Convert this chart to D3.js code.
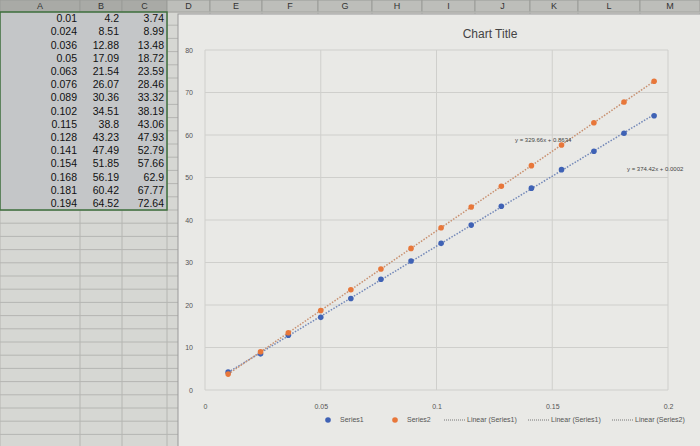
<!DOCTYPE html>
<html><head><meta charset="utf-8">
<script src="https://cdn.jsdelivr.net/npm/d3@7"></script>
<style>body{margin:0;background:#cfd0cc;font-family:"Liberation Sans",Arial,sans-serif}</style>
</head><body>
<script>
var xVals   = [0.01,0.024,0.036,0.05,0.063,0.076,0.089,0.102,0.115,0.128,0.141,0.154,0.168,0.181,0.194];
var series1 = [4.2,8.51,12.88,17.09,21.54,26.07,30.36,34.51,38.8,43.23,47.49,51.85,56.19,60.42,64.52];
var series2 = [3.74,8.99,13.48,18.72,23.59,28.46,33.32,38.19,43.06,47.93,52.79,57.66,62.9,67.77,72.64];
var colLetters = ["A","B","C","D","E","F","G","H","I","J","K","L","M"];
var colEdges   = [0,80,122,167,210,262,318,372,422,475,530,578,640,700];
var xTicks = [0,0.05,0.1,0.15,0.2];
var yTicks = [0,10,20,30,40,50,60,70,80];
var eq1 = "y = 374.42x + 0.0002", eq2 = "y = 329.66x + 0.8634";

var W = 700, H = 446;
var svg = d3.select("body").append("svg").attr("width", W).attr("height", H);
svg.append("rect").attr("width", W).attr("height", H).attr("fill", "#d6d7d3");

// column header
svg.selectAll(".ch").data(colLetters).enter().append("rect")
   .attr("x", function(d,i){ return colEdges[i]; }).attr("y", 0)
   .attr("width", function(d,i){ return colEdges[i+1]-colEdges[i]; }).attr("height", 12)
   .attr("fill", function(d,i){ return i < 3 ? "#a9aaa6" : "#bdbeba"; }).attr("stroke", "#9a9b97");
svg.selectAll(".cht").data(colLetters).enter().append("text")
   .attr("x", function(d,i){ return (colEdges[i]+colEdges[i+1])/2; }).attr("y", 9)
   .attr("text-anchor","middle").attr("font-size", 9).attr("fill","#333").text(function(d){ return d; });

// grid rows
var rowH = 13.2, row0 = 12;
for (var r = 0; r < 33; r++) {
  svg.append("line").attr("x1",0).attr("x2",W).attr("y1",row0+r*rowH).attr("y2",row0+r*rowH).attr("stroke","#b5b6b2");
}
colEdges.forEach(function(x){ svg.append("line").attr("x1",x).attr("x2",x).attr("y1",12).attr("y2",H).attr("stroke","#b5b6b2"); });

// selected data cells
svg.append("rect").attr("x",0).attr("y",row0).attr("width",167).attr("height",rowH*15)
   .attr("fill","#c4c6c8").attr("stroke","#3d6e3b").attr("stroke-width",1.5);
[xVals, series1, series2].forEach(function(col, c){
  svg.selectAll(".c"+c).data(col).enter().append("text")
     .attr("x", colEdges[c+1]-3).attr("y", function(d,i){ return row0 + (i+1)*rowH - 3; })
     .attr("text-anchor","end").attr("font-size", 10.5).attr("fill","#111").text(function(d){ return d; });
});

// chart
var cx0 = 178, cy0 = 14;
svg.append("rect").attr("x",cx0).attr("y",cy0).attr("width",W-cx0+2).attr("height",H-cy0+4)
   .attr("fill","#e9e9e6").attr("stroke","#999");
svg.append("text").attr("x",490).attr("y",38).attr("text-anchor","middle").attr("font-size",12).attr("fill","#444").text("Chart Title");

var x = d3.scaleLinear().domain([0,0.2]).range([205,668]);
var y = d3.scaleLinear().domain([0,80]).range([390,50]);

var g = svg.append("g");
g.selectAll(".gx").data(yTicks).enter().append("line")
 .attr("x1",205).attr("x2",668).attr("y1",function(d){return y(d);}).attr("y2",function(d){return y(d);}).attr("stroke","#cfcfcc");
g.selectAll(".gy").data(xTicks).enter().append("line")
 .attr("y1",50).attr("y2",390).attr("x1",function(d){return x(d);}).attr("x2",function(d){return x(d);}).attr("stroke","#cfcfcc");

var yAxis = svg.append("g").attr("transform","translate(205,0)").call(d3.axisLeft(y).tickValues(yTicks).tickSize(0).tickPadding(12));
var xAxis = svg.append("g").attr("transform","translate(0,390)").call(d3.axisBottom(x).tickValues(xTicks).tickSize(0).tickPadding(14).tickFormat(function(d){return d;}));
[xAxis,yAxis].forEach(function(a){ a.select(".domain").remove(); a.selectAll("text").attr("fill","#555").attr("font-size",7); });

function fit(vals){
  var mx=d3.mean(xVals), my=d3.mean(vals), num=0, den=0;
  xVals.forEach(function(v,i){ num+=(v-mx)*(vals[i]-my); den+=(v-mx)*(v-mx); });
  var b=num/den; return [b, my-b*mx];
}
var cols = ["#3f62b5","#e8773a"];
[series1, series2].forEach(function(s, k){
  var f = fit(s), xs = [0.01, 0.194];
  svg.append("path").attr("d", d3.line().x(function(d){return x(d);}).y(function(d){return y(f[0]*d+f[1]);})(xs))
     .attr("stroke", k ? "#c89070" : "#7388b8").attr("stroke-width",1.5).attr("stroke-dasharray","1.5,1.5").attr("fill","none");
  svg.selectAll(".p"+k).data(s).enter().append("circle")
     .attr("cx",function(d,i){return x(xVals[i]);}).attr("cy",function(d){return y(d);}).attr("r",2.8).attr("fill",cols[k]);
});
svg.append("text").attr("x",515).attr("y",142).attr("font-size",6).attr("fill","#444").text(eq2);
svg.append("text").attr("x",627).attr("y",171).attr("font-size",6).attr("fill","#444").text(eq1);

// legend
var leg = [{t:"Series1",c:cols[0]},{t:"Series2",c:cols[1]},{t:"Linear (Series1)",l:1},{t:"Linear (Series1)",l:1},{t:"Linear (Series2)",l:1}];
var lx = [325,392,444,528,612];
leg.forEach(function(d,i){
  if (d.l) svg.append("line").attr("x1",lx[i]).attr("x2",lx[i]+22).attr("y1",420).attr("y2",420).attr("stroke","#777").attr("stroke-dasharray","1,1");
  else svg.append("circle").attr("cx",lx[i]+3).attr("cy",420).attr("r",2.8).attr("fill",d.c);
  svg.append("text").attr("x",lx[i]+(d.l?23:15)).attr("y",422).attr("font-size",7).attr("fill","#555").text(d.t);
});
</script>
</body></html>
